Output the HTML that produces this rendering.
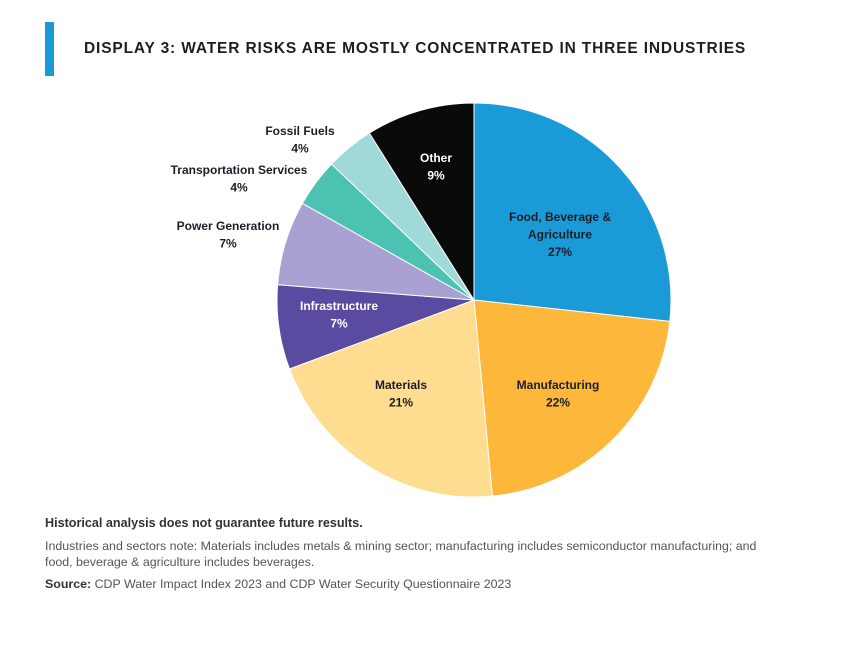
<!DOCTYPE html>
<html><head><meta charset="utf-8"><style>
body{margin:0;width:862px;height:668px;background:#fff;font-family:"Liberation Sans",sans-serif;position:relative;overflow:hidden}
.bar{position:absolute;left:45px;top:22px;width:9px;height:54px;background:#1a9ad6}
.title{position:absolute;left:84px;top:40px;font-size:15.5px;font-weight:bold;color:#1d1d28;letter-spacing:0.85px}
.n{position:absolute;left:45px;color:#555;font-size:12.4px;line-height:16px}
</style></head><body>
<div class="bar"></div>
<div class="title">DISPLAY 3: WATER RISKS ARE MOSTLY CONCENTRATED IN THREE INDUSTRIES</div>
<svg id="pie" width="862" height="668" style="position:absolute;left:0;top:0"></svg>
<div class="n" style="top:515px;font-weight:bold;color:#333;font-size:12.6px">Historical analysis does not guarantee future results.</div>
<div class="n" style="top:538px;width:740px">Industries and sectors note: Materials includes metals &amp; mining sector; manufacturing includes semiconductor manufacturing; and food, beverage &amp; agriculture includes beverages.</div>
<div class="n" style="top:576px"><b style="color:#333">Source:</b> CDP Water Impact Index 2023 and CDP Water Security Questionnaire 2023</div>
<script>
const categories=["Food, Beverage & Agriculture","Manufacturing","Materials","Infrastructure","Power Generation","Transportation Services","Fossil Fuels","Other"];
const values=[27,22,21,7,7,4,4,9];
const valueLabels=["27%","22%","21%","7%","7%","4%","4%","9%"];
const colors=["#1a9ad6","#fdb73a","#fedd90","#5b4ba0","#a9a1d1","#4cc2b2","#9fd9d8","#0a0a0a"];
const labelLines=[["Food, Beverage &","Agriculture"],["Manufacturing"],["Materials"],["Infrastructure"],["Power Generation"],["Transportation Services"],["Fossil Fuels"],["Other"]];
const labelPos=[[560,221],[558,389],[401,389],[339,310],[228,230],[239,174],[300,135],[436,162]];
const textColor=["#1d1d28","#1d1d28","#1d1d28","#fff","#1d1d28","#1d1d28","#1d1d28","#fff"];
const svg=document.getElementById('pie');
const NS='http://www.w3.org/2000/svg';
const cx=474,cy=300,r=197;
const total=values.reduce((a,b)=>a+b,0);
function pt(a,rr){return [cx+rr*Math.sin(a),cy-rr*Math.cos(a)];}
let a0=0;
values.forEach((v,i)=>{
  const a1=a0+v/total*2*Math.PI;
  const p0=pt(a0,r),p1=pt(a1,r);
  const path=document.createElementNS(NS,'path');
  path.setAttribute('d',`M${cx},${cy}L${p0[0]},${p0[1]}A${r},${r} 0 ${a1-a0>Math.PI?1:0} 1 ${p1[0]},${p1[1]}Z`);
  path.setAttribute('fill',colors[i]);
  path.setAttribute('stroke','#fff');
  path.setAttribute('stroke-width','1');
  
  
  svg.appendChild(path);
  a0=a1;
});
values.forEach((v,i)=>{
  const [x,y]=labelPos[i];
  const lines=labelLines[i].concat([valueLabels[i]]);
  const t=document.createElementNS(NS,'text');
  t.setAttribute('text-anchor','middle');
  t.setAttribute('font-size','12');
  t.setAttribute('font-weight','bold');
  t.setAttribute('fill',textColor[i]);
  t.setAttribute('font-family','Liberation Sans, sans-serif');
  
  
  lines.forEach((l,j)=>{
    const s=document.createElementNS(NS,'tspan');
    s.setAttribute('x',x);
    s.setAttribute('y',y+j*17.5);
    s.textContent=l;
    t.appendChild(s);
  });
  svg.appendChild(t);
});
</script>
</body></html>
